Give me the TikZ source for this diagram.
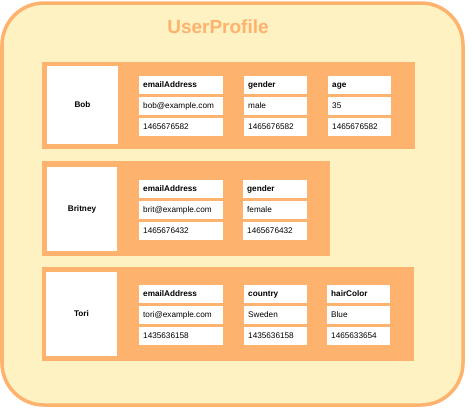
\documentclass[tikz,border=0pt]{standalone}
\usepackage{fontspec}
\setmainfont{Liberation Sans}
\usetikzlibrary{positioning}
\definecolor{peach}{RGB}{253,178,110}
\definecolor{cream}{RGB}{254,242,194}
\tikzset{
  rowbox/.style={fill=peach, inner sep=0pt, anchor=north west},
  namebox/.style={fill=white, inner sep=0pt, font=\fontsize{8.2}{10}\selectfont\bfseries},
  cell/.style={fill=white, anchor=north west, inner xsep=4pt, inner ysep=0pt,
    text height=6.2pt, text depth=1.8pt,
    minimum height=18, align=left, font=\fontsize{8.2}{10}\selectfont},
  headcell/.style={cell, font=\fontsize{8.2}{10}\selectfont\bfseries}
}
% one attribute column: id, x, y, text width, header, value, timestamp
\newcommand{\attrcol}[7]{
  \node[headcell, text width=#4] (#1h) at (#2,#3) {#5};
  \node[cell, text width=#4, below=2.5pt of #1h] (#1v) {#6};
  \node[cell, text width=#4, below=2.5pt of #1v] (#1t) {#7};
}
\begin{document}
\begin{tikzpicture}[x=1pt, y=-1pt]
                \useasboundingbox (0,0) rectangle (474,410);
                \draw[peach, fill=cream, line width=3.5, rounded corners=42] (2,3) rectangle (463,405);
                \node[text=peach, font=\fontsize{19}{22}\selectfont\bfseries] (title) at (218,27) {UserProfile};
                % Bob
                \node[rowbox, minimum width=373, minimum height=87] (bobrow) at (42,62) {};
                \node[namebox, minimum width=71, minimum height=78] (bob) at (82.5,105) {Bob};
                \attrcol{bobmail}{139}{76}{76}{emailAddress}{bob@example.com}{1465676582}
                \attrcol{bobgender}{244}{76}{55}{gender}{male}{1465676582}
                \attrcol{bobage}{328}{76}{55}{age}{35}{1465676582}
                % Britney
                \node[rowbox, minimum width=288, minimum height=95] (britrow) at (42,161) {};
                \node[namebox, minimum width=70, minimum height=84] (brit) at (82,209) {Britney};
                \attrcol{britmail}{139}{180}{76}{emailAddress}{brit@example.com}{1465676432}
                \attrcol{britgender}{243}{180}{56}{gender}{female}{1465676432}
                % Tori
                \node[rowbox, minimum width=372, minimum height=94] (torirow) at (42,267) {};
                \node[namebox, minimum width=71, minimum height=84] (tori) at (81.5,314) {Tori};
                \attrcol{torimail}{139}{285}{76}{emailAddress}{tori@example.com}{1435636158}
                \attrcol{toricountry}{244}{285}{55}{country}{Sweden}{1435636158}
                \attrcol{torihair}{327}{285}{55}{hairColor}{Blue}{1465633654}
\end{tikzpicture}
\end{document}
